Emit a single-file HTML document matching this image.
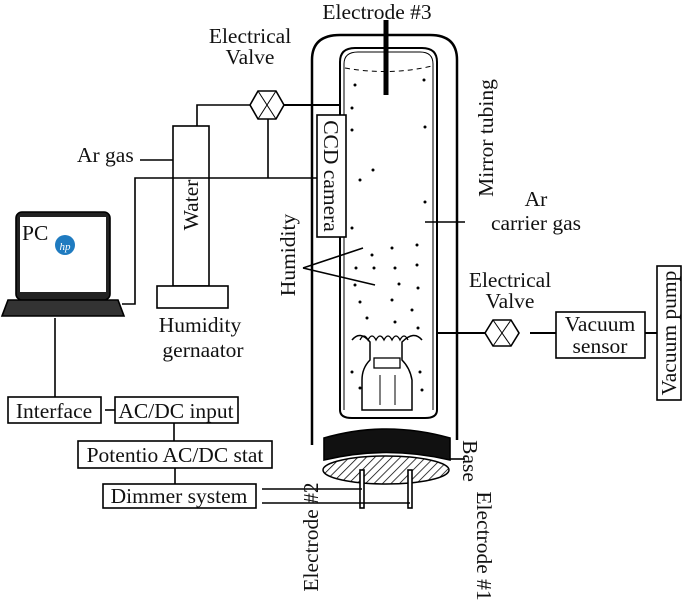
<!DOCTYPE html>
<html><head><style>
html,body{margin:0;padding:0;background:#fff;}
svg{display:block;}
text{font-family:"Liberation Serif",serif;fill:#111;}
</style></head><body>
<svg width="685" height="604" viewBox="0 0 685 604" xmlns="http://www.w3.org/2000/svg">
<defs>
<pattern id="h" width="6" height="6" patternUnits="userSpaceOnUse" patternTransform="rotate(45)">
<line x1="0" y1="0" x2="0" y2="6" stroke="#000" stroke-width="1.5"/>
</pattern>
</defs>
<g fill="none" stroke="#000" stroke-width="1.6">
<path d="M312 445 L312 60 Q312 35 340 35 L430 35 Q457 35 457 60 L457 440" stroke-width="2.5"/>
<path d="M340 410 L340 62 Q340 48 355 48 L422 48 Q437 48 437 62 L437 410 Q437 418 425 418 L352 418 Q340 418 340 410" stroke-width="2"/>
<path d="M344 410 L344 64 Q344 52 358 52 L420 52 Q433 52 433 64 L433 410" stroke-width="1"/>
<path d="M345 68 Q390 76 432 66" stroke-width="1" stroke-dasharray="5 4"/>
<line x1="386" y1="20" x2="386" y2="95" stroke-width="5"/>
<path d="M324 438 Q386 420 450 438 L450 460 Q386 445 324 460 Z" fill="#111"/>
<ellipse cx="386" cy="470" rx="63" ry="14" fill="url(#h)" stroke-width="1.5"/>
<line x1="450" y1="459" x2="465" y2="459"/>
<rect x="360" y="470" width="4" height="38" fill="#fff"/>
<rect x="408" y="470" width="4" height="38" fill="#fff"/>
<path d="M352 340 Q360 330 370 342 L370 360 Q362 368 362 380 L362 410 L412 410 L412 380 Q410 368 402 360 L402 342 Q414 330 422 340" stroke-width="1.5"/>
<path d="M360 340 q4 -8 8 0 q4 -8 8 0 q4 -8 8 0 q4 -8 8 0 q4 -8 8 0 q4 -8 8 0" stroke-width="1.3"/>
<rect x="374" y="358" width="26" height="10" stroke-width="1.3"/>
<line x1="380" y1="375" x2="380" y2="405" stroke-width="1"/><line x1="395" y1="375" x2="395" y2="405" stroke-width="1"/>
<rect x="317" y="115" width="29" height="122" fill="#fff"/>
<line x1="303" y1="268" x2="363" y2="248"/>
<line x1="303" y1="268" x2="375" y2="285"/>
<line x1="425" y1="222" x2="465" y2="222"/>
<polygon points="250,105 258,91 276,91 284,105 276,119 258,119" fill="#fff"/>
<line x1="258" y1="91" x2="276" y2="119" stroke-width="1"/><line x1="276" y1="91" x2="258" y2="119" stroke-width="1"/>
<line x1="284" y1="105" x2="340" y2="105" stroke-width="2"/>
<polyline points="250,105 197,105 197,126"/>
<line x1="268" y1="119" x2="268" y2="178"/>
<rect x="173" y="126" width="36" height="160" fill="none"/>
<rect x="157" y="286" width="71" height="22" fill="#fff"/>
<line x1="140" y1="160" x2="173" y2="160"/>
<polyline points="317,178 135,178 135,304 122,304"/>
<rect x="16" y="212" width="94" height="88" rx="6" fill="#222"/>
<rect x="20" y="217" width="86" height="75" fill="#fff" stroke="none"/>
<path d="M8 300 L118 300 L124 316 L2 316 Z" fill="#333"/>
<line x1="55" y1="318" x2="55" y2="397"/>
<rect x="8" y="397" width="93" height="26"/>
<rect x="115" y="397" width="123" height="26"/>
<line x1="105" y1="410" x2="115" y2="410"/>
<line x1="174" y1="423" x2="174" y2="441"/>
<rect x="78" y="441" width="194" height="27"/>
<line x1="175" y1="468" x2="175" y2="484"/>
<rect x="103" y="484" width="153" height="24"/>
<polyline points="262,489 362,489"/>
<polyline points="262,503 410,503"/>
<line x1="437" y1="333" x2="485" y2="333" stroke-width="2"/>
<polygon points="485,333 493,320 511,320 519,333 511,346 493,346" fill="#fff"/>
<line x1="493" y1="320" x2="511" y2="346" stroke-width="1"/><line x1="511" y1="320" x2="493" y2="346" stroke-width="1"/>
<line x1="530" y1="333" x2="556" y2="333" stroke-width="2"/>
<rect x="556" y="312" width="89" height="46"/>
<line x1="645" y1="333" x2="657" y2="333" stroke-width="2"/>
<rect x="657" y="266" width="24" height="134"/>
</g>
<circle cx="65" cy="245" r="10" fill="#1f7bc0"/>
<text x="65" y="250" font-size="11" text-anchor="middle" style="fill:#fff;font-style:italic">hp</text>
<g fill="#000">
<circle cx="355" cy="85" r="1.5"/><circle cx="424" cy="80" r="1.5"/><circle cx="352" cy="108" r="1.5"/>
<circle cx="425" cy="127" r="1.5"/><circle cx="352" cy="130" r="1.5"/><circle cx="373" cy="170" r="1.5"/>
<circle cx="360" cy="180" r="1.5"/><circle cx="425" cy="202" r="1.5"/><circle cx="352" cy="228" r="1.5"/>
<circle cx="392" cy="248" r="1.5"/><circle cx="417" cy="245" r="1.5"/><circle cx="372" cy="255" r="1.5"/>
<circle cx="356" cy="268" r="1.5"/><circle cx="374" cy="268" r="1.5"/><circle cx="395" cy="268" r="1.5"/><circle cx="417" cy="265" r="1.5"/>
<circle cx="355" cy="285" r="1.5"/><circle cx="399" cy="284" r="1.5"/><circle cx="418" cy="288" r="1.5"/>
<circle cx="360" cy="302" r="1.5"/><circle cx="392" cy="300" r="1.5"/><circle cx="412" cy="310" r="1.5"/>
<circle cx="367" cy="318" r="1.5"/><circle cx="395" cy="322" r="1.5"/><circle cx="418" cy="328" r="1.5"/>
<circle cx="352" cy="372" r="1.5"/><circle cx="360" cy="388" r="1.5"/><circle cx="420" cy="372" r="1.5"/><circle cx="422" cy="390" r="1.5"/>
</g>
<g font-size="21.5">
<text x="377" y="19" text-anchor="middle">Electrode #3</text>
<text x="250" y="43" text-anchor="middle">Electrical</text>
<text x="250" y="64" text-anchor="middle">Valve</text>
<text x="77" y="162">Ar gas</text>
<text x="22" y="240">PC</text>
<text x="200" y="332" text-anchor="middle">Humidity</text>
<text x="203" y="357" text-anchor="middle">gernaator</text>
<text x="536" y="206" text-anchor="middle">Ar</text>
<text x="536" y="230" text-anchor="middle">carrier gas</text>
<text x="510" y="287" text-anchor="middle">Electrical</text>
<text x="510" y="308" text-anchor="middle">Valve</text>
<text x="600" y="331" text-anchor="middle">Vacuum</text>
<text x="600" y="353" text-anchor="middle">sensor</text>
<text x="54" y="418" text-anchor="middle">Interface</text>
<text x="176" y="418" text-anchor="middle">AC/DC input</text>
<text x="175" y="462" text-anchor="middle">Potentio AC/DC stat</text>
<text x="179" y="503" text-anchor="middle">Dimmer system</text>
<text transform="translate(324,176) rotate(90)" text-anchor="middle">CCD camera</text>
<text transform="translate(198,205) rotate(-90)" text-anchor="middle">Water</text>
<text transform="translate(295,255) rotate(-90)" text-anchor="middle">Humidity</text>
<text transform="translate(493,138) rotate(-90)" text-anchor="middle">Mirror tubing</text>
<text transform="translate(676,333) rotate(-90)" text-anchor="middle">Vacuum pump</text>
<text transform="translate(463,461) rotate(90)" text-anchor="middle">Base</text>
<text transform="translate(318,537) rotate(-90)" text-anchor="middle">Electrode #2</text>
<text transform="translate(477,546) rotate(90)" text-anchor="middle">Electrode #1</text>
</g>
</svg>
</body></html>
